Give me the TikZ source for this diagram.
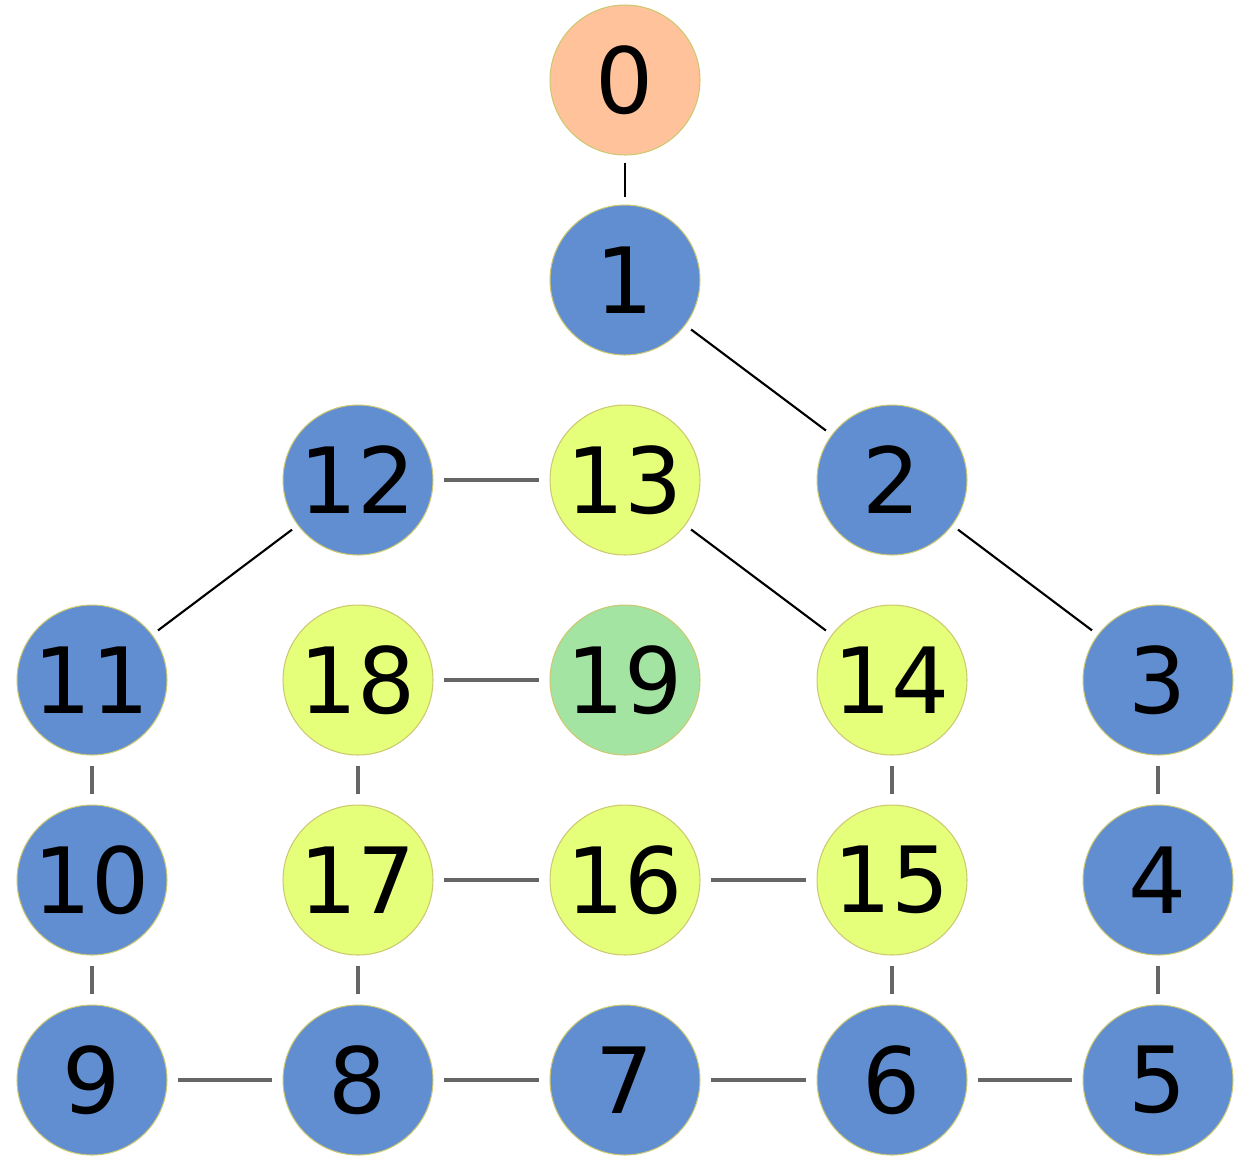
\documentclass[tikz,border=0pt]{standalone}
\usepackage{fontspec}
\setmainfont{DejaVu Sans}
\begin{document}
\begin{tikzpicture}[x=0.02cm,y=-0.02cm,
  nd/.style={circle,minimum size=3cm,inner sep=0pt,draw=olive!45!white,line width=0.6pt,font=\fontsize{52}{52}\selectfont},
  bl/.style={nd,fill=blue!35!cyan!30!black!0,fill={rgb,255:red,96;green,142;blue,208}},
  ye/.style={nd,fill={rgb,255:red,229;green,255;blue,122}},
  gr/.style={nd,fill={rgb,255:red,163;green,228;blue,163}},
  og/.style={nd,fill={rgb,255:red,255;green,194;blue,155}},
  e1/.style={black,line width=1.2pt,shorten <=4pt,shorten >=4pt},
  e2/.style={black!60,line width=2pt,shorten <=6pt,shorten >=6pt}]
\useasboundingbox (0,0) rectangle (1253,1174);
\node[og] (n0) at (625,80) {0};
\node[bl] (n1) at (625,280) {1};
\node[bl] (n2) at (892,480) {2};
\node[bl] (n3) at (1158,680) {3};
\node[bl] (n4) at (1158,880) {4};
\node[bl] (n5) at (1158,1080) {5};
\node[bl] (n6) at (892,1080) {6};
\node[bl] (n7) at (625,1080) {7};
\node[bl] (n8) at (358,1080) {8};
\node[bl] (n9) at (92,1080) {9};
\node[bl] (n10) at (92,880) {10};
\node[bl] (n11) at (92,680) {11};
\node[bl] (n12) at (358,480) {12};
\node[ye] (n13) at (625,480) {13};
\node[ye] (n14) at (892,680) {14};
\node[ye] (n15) at (892,880) {15};
\node[ye] (n16) at (625,880) {16};
\node[ye] (n17) at (358,880) {17};
\node[ye] (n18) at (358,680) {18};
\node[gr] (n19) at (625,680) {19};
\draw[e1] (n0)--(n1);
\draw[e1] (n1)--(n2);
\draw[e1] (n2)--(n3);
\draw[e1] (n13)--(n14);
\draw[e1] (n12)--(n11);
\draw[e2] (n3)--(n4);
\draw[e2] (n4)--(n5);
\draw[e2] (n5)--(n6);
\draw[e2] (n6)--(n7);
\draw[e2] (n7)--(n8);
\draw[e2] (n8)--(n9);
\draw[e2] (n9)--(n10);
\draw[e2] (n10)--(n11);
\draw[e2] (n12)--(n13);
\draw[e2] (n14)--(n15);
\draw[e2] (n15)--(n16);
\draw[e2] (n16)--(n17);
\draw[e2] (n17)--(n18);
\draw[e2] (n18)--(n19);
\draw[e2] (n15)--(n6);
\draw[e2] (n17)--(n8);
\end{tikzpicture}
\end{document}
